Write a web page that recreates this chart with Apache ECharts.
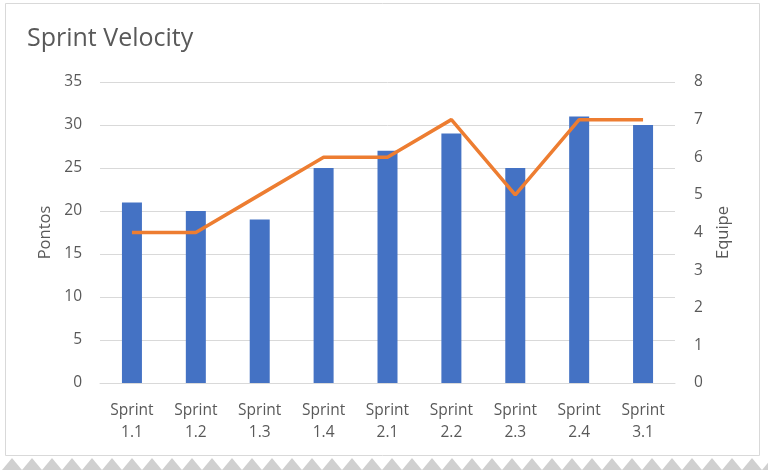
<!DOCTYPE html>
<html><head><meta charset="utf-8">
<script src="https://cdn.jsdelivr.net/npm/echarts@6/dist/echarts.min.js"></script>
<style>html,body{margin:0;padding:0;background:#fff}#c{width:768px;height:470px}</style>
</head><body><div id="c"></div>
<script>
var categories = ["Sprint\n1.1","Sprint\n1.2","Sprint\n1.3","Sprint\n1.4","Sprint\n2.1","Sprint\n2.2","Sprint\n2.3","Sprint\n2.4","Sprint\n3.1"];
var pontos = [21, 20, 19, 25, 27, 29, 25, 31, 30];
var equipe = [4, 4, 5, 6, 6, 7, 5, 7, 7];

var font = "'Open Sans', Lato, sans-serif";
var txt = "#595959";

// decorative zigzag edge under the frame
var zig = [];
for (var i = 0; i < 40; i++) {
  zig.push({type:'polygon', silent:true, shape:{points:[[i*20+2,470],[i*20+12,458],[i*20+22,470]]}, style:{fill:'#d0d0d0'}});
}

var chart = echarts.init(document.getElementById('c'), null, {renderer:'canvas'});
chart.setOption({
  animation:false,
  backgroundColor:'#fff',
  title:{text:'Sprint Velocity', left:22, top:21, textStyle:{fontFamily:font, fontSize:25, fontWeight:'normal', color:txt}},
  graphic: [{type:'rect', silent:true, shape:{x:5.5,y:3.5,width:754,height:452}, style:{fill:'none', stroke:'#d9d9d9', lineWidth:1}}].concat(zig),
  grid:{left:100, right:93, top:82, bottom:87},
  xAxis:{type:'category', data:categories,
    axisLine:{show:true, lineStyle:{color:'#d9d9d9'}}, axisTick:{show:false},
    axisLabel:{fontFamily:font, fontSize:15.5, color:txt, lineHeight:22, margin:17, interval:0}},
  yAxis:[
    {type:'value', min:0, max:35, interval:5, name:'Pontos', nameLocation:'middle', nameGap:46, nameRotate:90,
     nameTextStyle:{fontFamily:font, fontSize:16.5, color:txt},
     axisLine:{show:false}, axisTick:{show:false},
     axisLabel:{fontFamily:font, fontSize:15.5, color:txt, margin:18},
     splitLine:{lineStyle:{color:'#d9d9d9'}}},
    {type:'value', min:0, max:8, interval:1, name:'Equipe', nameLocation:'middle', nameGap:40, nameRotate:90,
     nameTextStyle:{fontFamily:font, fontSize:16.5, color:txt},
     axisLine:{show:false}, axisTick:{show:false},
     axisLabel:{fontFamily:font, fontSize:15.5, color:txt, margin:19},
     splitLine:{show:false}}
  ],
  series:[
    {type:'bar', data:pontos, yAxisIndex:0, barWidth:20, itemStyle:{color:'#4472C4'}},
    {type:'line', data:equipe, yAxisIndex:1, symbol:'none', lineStyle:{color:'#ED7D31', width:3.5}, itemStyle:{color:'#ED7D31'}}
  ]
});
</script></body></html>
